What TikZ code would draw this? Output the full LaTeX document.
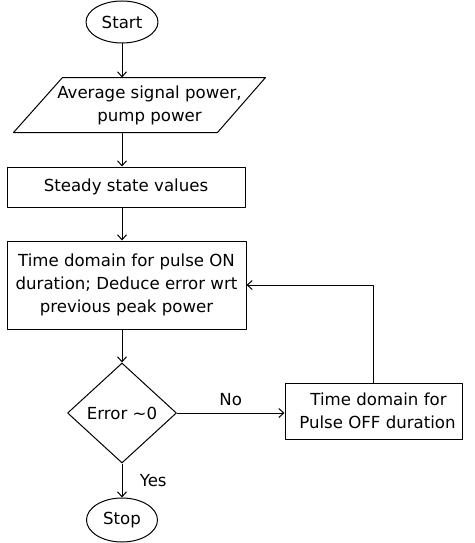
\documentclass[tikz,border=0pt]{standalone}
\usepackage{fontspec}
\setmainfont{DejaVu Sans}
\usetikzlibrary{shapes.geometric,arrows.meta}
\begin{document}
\begin{tikzpicture}[x=1pt, y=-1pt, font=\fontsize{16.6}{23}\selectfont, line join=round, >={Straight Barb[length=5pt,width=9pt]},
	every path/.style={line width=1pt},
	termbox/.style={draw, ellipse, inner sep=0pt, minimum width=72pt, minimum height=42pt},
	iobox/.style={rectangle, inner sep=0pt, minimum width=251pt, minimum height=54pt, align=center},
	procbox/.style={draw, rectangle, inner sep=0pt, align=center},
	decbox/.style={draw, diamond, inner sep=0pt, minimum width=109pt, minimum height=100pt}]
	\useasboundingbox (0,0) rectangle (474,543);
	\node[termbox] (start) at (122,22) {Start};
	\node[iobox] (input) at (139.5,105) {\hspace*{20pt}Average signal power,\\\hspace*{20pt}pump power};
	\draw ([xshift=49pt]input.north west) -- (input.north east) -- ([xshift=-48pt]input.south east) -- (input.south west) -- cycle;
	\node[procbox, minimum width=238pt, minimum height=40pt] (steady) at (126,187) {Steady state values};
	\node[procbox, minimum width=239pt, minimum height=88pt] (ontime) at (126.5,285) {Time domain for pulse ON\\duration; Deduce error wrt\\previous peak power};
	\node[decbox] (check) at (122,413) {Error \textasciitilde0};
	\node[procbox, minimum width=177pt, minimum height=56pt] (offtime) at (373.5,411) {\hspace*{10pt}Time domain for\\\hspace*{8pt}Pulse OFF duration};
	\node[termbox, minimum width=71pt, minimum height=44pt] (stop) at (122,520) {Stop};
	% main column
	\draw[->] (start.south) -- (start.south |- input.north);
	\draw[->] (start.south |- input.south) -- (start.south |- steady.north);
	\draw[->] (start.south |- steady.south) -- (start.south |- ontime.north);
	\draw[->] (start.south |- ontime.south) -- (check.north);
	\draw[->] (check.south) -- node[midway, right=14pt] {Yes} (stop.north);
	% loop back
	\draw[->] (check.east) -- node[midway, above=3pt] {No} (check.east -| offtime.west);
	\draw[->] (offtime.north) |- (ontime.east);
\end{tikzpicture}
\end{document}
